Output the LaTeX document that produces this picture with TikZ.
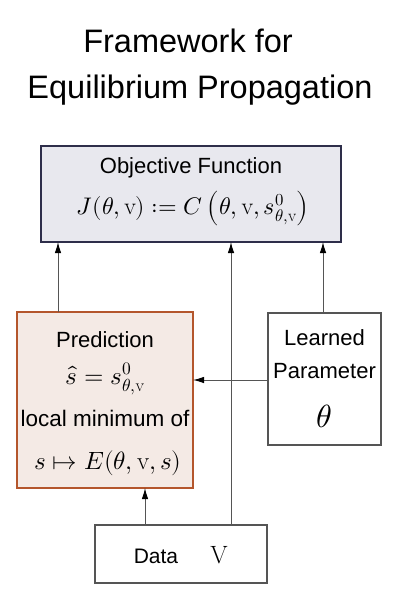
\documentclass[tikz,border=0pt]{standalone}
\usepackage{fontspec}
\setmainfont{Liberation Sans}
\usepackage{amsmath}
\usepackage{unicode-math}
\setmathfont{Latin Modern Math}
\setmathrm{Latin Modern Roman}
\usetikzlibrary{arrows.meta}
\definecolor{objfill}{HTML}{E8E8EE}
\definecolor{objdraw}{HTML}{2E2E4A}
\definecolor{predfill}{HTML}{F4EAE5}
\definecolor{preddraw}{HTML}{B4562C}
\definecolor{linegray}{HTML}{555555}
\begin{document}
\begin{tikzpicture}[x=1pt,y=-1pt,
  box/.style={draw=linegray, line width=1.2pt, inner sep=0pt},
  conn/.style={draw=linegray, line width=1pt, -{Latex[length=11pt,width=6.5pt,color=black]}},
  txt/.style={inner sep=0pt, anchor=base}]
\useasboundingbox (0,0) rectangle (400,600);
% title
\node[txt, font=\fontsize{32.5}{36}\selectfont] (t1) at (188,52) {Framework for};
\node[txt, font=\fontsize{32.5}{36}\selectfont] (t2) at (200,98) {Equilibrium Propagation};
% boxes
\node[box, draw=objdraw, fill=objfill, minimum width=300pt, minimum height=96pt] (obj) at (191,194) {};
\node[box, draw=preddraw, fill=predfill, minimum width=176pt, minimum height=176pt] (pred) at (105,400) {};
\node[box, fill=white, minimum width=113pt, minimum height=132pt] (learn) at (324.5,379) {};
\node[box, fill=white, minimum width=172pt, minimum height=58pt] (data) at (181,554) {};
% texts
\node[txt, font=\fontsize{22}{24}\selectfont] (o1) at (191,173) {Objective Function};
\node[txt, font=\fontsize{24}{26}\selectfont] (o2) at (193,214) {$J(\theta,\mathrm{v}):=C\left(\theta,\mathrm{v},s^{0}_{\theta,\mathrm{v}}\right)$};
\node[txt, font=\fontsize{22}{24}\selectfont] (p1) at (105,347) {Prediction};
\node[txt, font=\fontsize{25}{27}\selectfont] (p2) at (105,384) {$\widehat{s}=s^{0}_{\theta,\mathrm{v}}$};
\node[txt, font=\fontsize{22.5}{24}\selectfont] (p3) at (105,426) {local minimum of};
\node[txt, font=\fontsize{25}{27}\selectfont] (p4) at (108,469) {$s\mapsto E(\theta,\mathrm{v},s)$};
\node[txt, font=\fontsize{22}{24}\selectfont] (l1) at (324.5,345) {Learned};
\node[txt, font=\fontsize{22}{24}\selectfont] (l2) at (324.5,378) {Parameter};
\node[txt, font=\fontsize{32}{34}\selectfont] (l3) at (324.5,427) {$\theta$};
\node[txt, font=\fontsize{21}{24}\selectfont] (d1) at (156,563) {Data};
\node[txt, font=\fontsize{25}{27}\selectfont] (d2) at (219,563) {$\mathrm{V}$};
% connectors
\coordinate (a1s) at (58,312);
\coordinate (a1e) at (58,242);
\draw[conn] (a1s) -- (a1e);
\coordinate (a2s) at (231,525);
\coordinate (a2e) at (231,242);
\draw[conn] (a2s) -- (a2e);
\coordinate (a3s) at (323,313);
\coordinate (a3e) at (323,242);
\draw[conn] (a3s) -- (a3e);
\coordinate (a4s) at (268,380);
\coordinate (a4e) at (193,380);
\draw[conn] (a4s) -- (a4e);
\coordinate (a5s) at (145,525);
\coordinate (a5e) at (145,488);
\draw[conn] (a5s) -- (a5e);
\end{tikzpicture}
\end{document}
